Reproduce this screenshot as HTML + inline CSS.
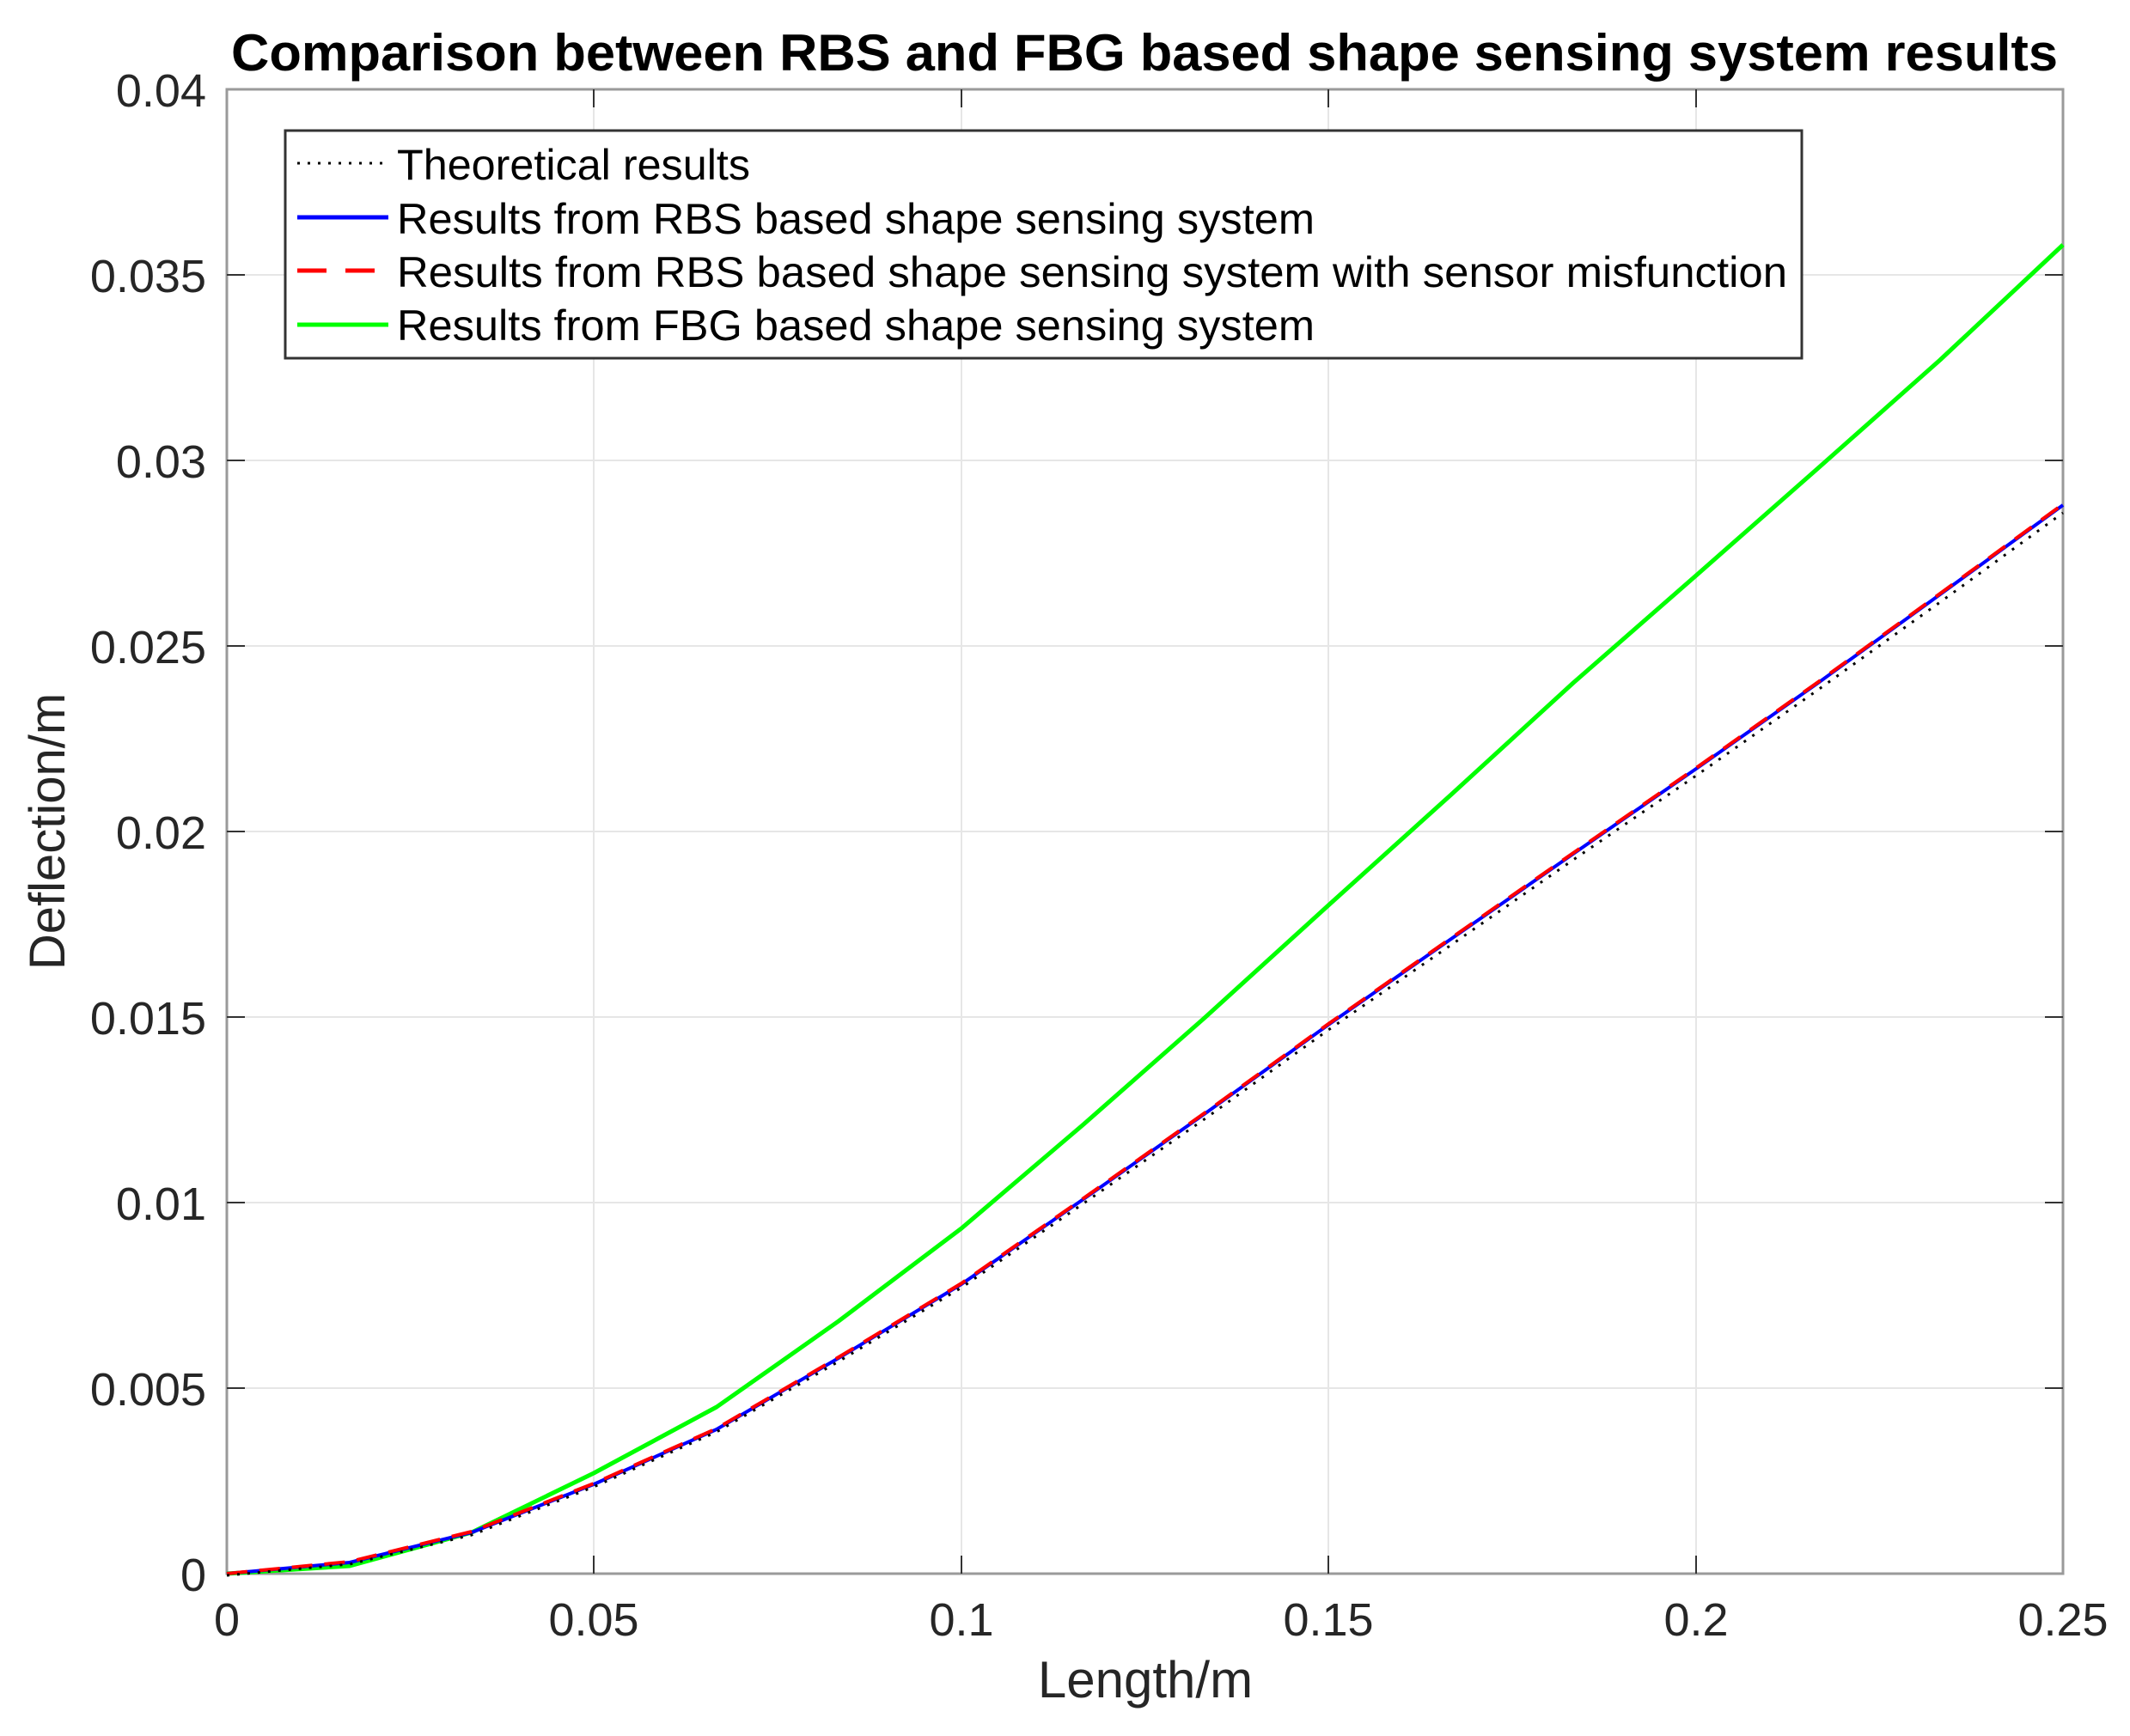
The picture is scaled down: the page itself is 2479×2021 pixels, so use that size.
<!DOCTYPE html>
<html><head><meta charset="utf-8"><style>html,body{margin:0;padding:0;background:#fff}svg{display:block}</style></head>
<body>
<svg width="2479" height="2021" viewBox="0 0 2479 2021" xmlns="http://www.w3.org/2000/svg" font-family="'Liberation Sans', sans-serif">
<rect width="2479" height="2021" fill="#fff"/>
<g stroke="#e6e6e6" stroke-width="2">
<line x1="691" y1="104" x2="691" y2="1832"/><line x1="1119" y1="104" x2="1119" y2="1832"/><line x1="1546" y1="104" x2="1546" y2="1832"/><line x1="1974" y1="104" x2="1974" y2="1832"/>
<line x1="264" y1="1616" x2="2401" y2="1616"/><line x1="264" y1="1400" x2="2401" y2="1400"/><line x1="264" y1="1184" x2="2401" y2="1184"/><line x1="264" y1="968" x2="2401" y2="968"/><line x1="264" y1="752" x2="2401" y2="752"/><line x1="264" y1="536" x2="2401" y2="536"/><line x1="264" y1="320" x2="2401" y2="320"/>
</g>
<rect x="264" y="104" width="2137" height="1728" fill="none" stroke="#9a9a9a" stroke-width="3"/>
<g stroke="#333" stroke-width="2">
<line x1="691" y1="1832" x2="691" y2="1811"/><line x1="1119" y1="1832" x2="1119" y2="1811"/><line x1="1546" y1="1832" x2="1546" y2="1811"/><line x1="1974" y1="1832" x2="1974" y2="1811"/>
<line x1="691" y1="104" x2="691" y2="125"/><line x1="1119" y1="104" x2="1119" y2="125"/><line x1="1546" y1="104" x2="1546" y2="125"/><line x1="1974" y1="104" x2="1974" y2="125"/>
<line x1="264" y1="1616" x2="285" y2="1616"/><line x1="264" y1="1400" x2="285" y2="1400"/><line x1="264" y1="1184" x2="285" y2="1184"/><line x1="264" y1="968" x2="285" y2="968"/><line x1="264" y1="752" x2="285" y2="752"/><line x1="264" y1="536" x2="285" y2="536"/><line x1="264" y1="320" x2="285" y2="320"/>
<line x1="2401" y1="1616" x2="2380" y2="1616"/><line x1="2401" y1="1400" x2="2380" y2="1400"/><line x1="2401" y1="1184" x2="2380" y2="1184"/><line x1="2401" y1="968" x2="2380" y2="968"/><line x1="2401" y1="752" x2="2380" y2="752"/><line x1="2401" y1="536" x2="2380" y2="536"/><line x1="2401" y1="320" x2="2380" y2="320"/>
</g>
<g font-size="54" fill="#262626" text-anchor="end">
<text x="240" y="1852">0</text><text x="240" y="1636">0.005</text><text x="240" y="1420">0.01</text><text x="240" y="1204">0.015</text><text x="240" y="988">0.02</text><text x="240" y="772">0.025</text><text x="240" y="556">0.03</text><text x="240" y="340">0.035</text><text x="240" y="124">0.04</text>
</g>
<g font-size="54" fill="#262626" text-anchor="middle">
<text x="264" y="1904">0</text><text x="691" y="1904">0.05</text><text x="1119" y="1904">0.1</text><text x="1546" y="1904">0.15</text><text x="1974" y="1904">0.2</text><text x="2401" y="1904">0.25</text>
</g>
<text x="1333" y="1976" font-size="60" fill="#262626" text-anchor="middle">Length/m</text>
<text transform="translate(75,968) rotate(-90)" font-size="58" fill="#262626" text-anchor="middle">Deflection/m</text>
<text x="1332" y="82" font-size="60" font-weight="bold" fill="#000" text-anchor="middle" textLength="2126" lengthAdjust="spacingAndGlyphs">Comparison between RBS and FBG based shape sensing system results</text>
<g fill="none" stroke-linejoin="round">
<polyline stroke="#00ff00" stroke-width="5" points="264,1832 407,1823 549,1784 691,1715 834,1638 976,1538 1119,1430 1261,1309 1403,1184 1546,1054 1689,925 1831,795 1974,670 2116,545 2258,419 2401,285"/>
<polyline stroke="#0000ff" stroke-width="4" points="264,1832 407,1819 549,1784 691,1728 834,1664 976,1581 1119,1495 1261,1396 1403,1296 1546,1193 1689,1093 1831,994 1974,895 2116,795 2258,692 2401,588"/>
<polyline stroke="#ff0000" stroke-width="4" stroke-dasharray="24,14" points="264,1832 407,1818 549,1783 691,1727 834,1663 976,1580 1119,1494 1261,1395 1403,1295 1546,1192 1689,1092 1831,993 1974,894 2116,794 2258,691 2401,587"/>
<polyline stroke="#000" stroke-width="3" stroke-dasharray="3,9" points="264,1834 407,1821 549,1787 691,1731 834,1667 976,1585 1119,1499 1261,1401 1403,1302 1546,1199 1689,1100 1831,1001 1974,903 2116,803 2258,701 2401,597"/>
</g>
<rect x="332" y="152" width="1765" height="265" fill="#fff" stroke="#333" stroke-width="3"/>
<line x1="346" y1="190" x2="452" y2="190" stroke="#000" stroke-width="3" stroke-dasharray="3,9"/>
<line x1="346" y1="253" x2="452" y2="253" stroke="#0000ff" stroke-width="5"/>
<line x1="346" y1="315" x2="452" y2="315" stroke="#ff0000" stroke-width="5" stroke-dasharray="34,22"/>
<line x1="346" y1="378" x2="452" y2="378" stroke="#00ff00" stroke-width="5"/>
<g font-size="50" fill="#000">
<text x="462" y="209" textLength="411" lengthAdjust="spacingAndGlyphs">Theoretical results</text>
<text x="462" y="272" textLength="1068" lengthAdjust="spacingAndGlyphs">Results from RBS based shape sensing system</text>
<text x="462" y="334" textLength="1618" lengthAdjust="spacingAndGlyphs">Results from RBS based shape sensing system with sensor misfunction</text>
<text x="462" y="396" textLength="1068" lengthAdjust="spacingAndGlyphs">Results from FBG based shape sensing system</text>
</g>
</svg>
</body></html>
